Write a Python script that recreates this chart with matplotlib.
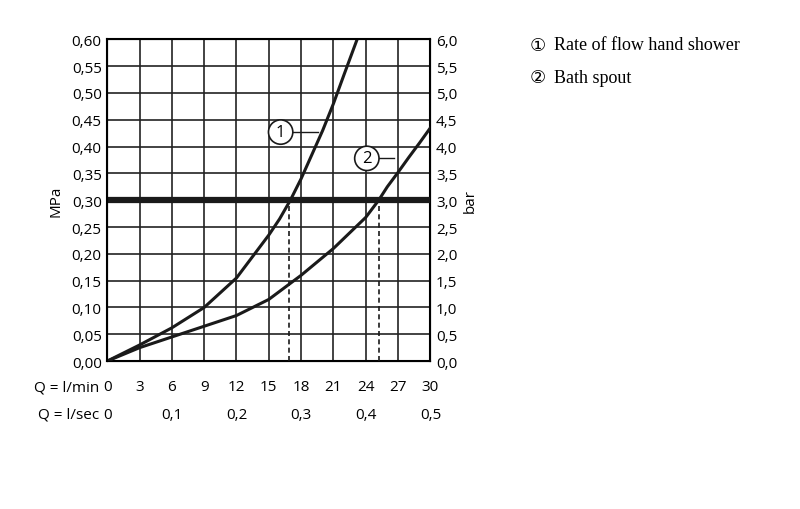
import matplotlib.pyplot as plt
import numpy as np

plt.rcParams['font.family'] = ['Open Sans', 'DejaVu Sans']

# curve data (x in l/min, y in MPa)
hand_x = [0, 3, 6, 9, 12, 15, 16, 17, 18, 19, 20, 21, 22, 23.2]
hand_y = [0, 0.03, 0.062, 0.10, 0.155, 0.235, 0.265, 0.30, 0.34, 0.385, 0.43, 0.48, 0.535, 0.60]
spout_x = [0, 3, 6, 9, 12, 15, 18, 21, 24, 25.2, 26, 27, 28, 29, 30]
spout_y = [0, 0.025, 0.045, 0.065, 0.085, 0.115, 0.16, 0.21, 0.268, 0.30, 0.325, 0.352, 0.38, 0.407, 0.435]
drop_x = [16.9, 25.2]
lmin_ticks = list(range(0, 31, 3))
lsec_labels = ['0', '0,1', '0,2', '0,3', '0,4', '0,5']
legend_marks = ['\u2460', '\u2461']
legend_items = ['Rate of flow hand shower', 'Bath spout']

fig = plt.figure(figsize=(8, 5.1), dpi=100)
ax = fig.add_axes([0.134, 0.290, 0.404, 0.631])
ax.set_xlim(0, 30)
ax.set_ylim(0, 0.6)
ax.set_xticks(lmin_ticks)
ax.set_yticks(np.arange(0, 0.601, 0.05))
ax.set_yticklabels([f'{v:.2f}'.replace('.', ',') for v in np.arange(0, 0.601, 0.05)], fontsize=11)
ax.set_xticklabels([])
ax.tick_params(length=0, pad=4)
ax.grid(True, color='#222', lw=1.2)
for s in ax.spines.values():
    s.set_linewidth(1.5)
ax.set_ylabel('MPa', fontsize=11, labelpad=6)

ax2 = ax.twinx()
ax2.set_ylim(0, 6)
ax2.set_yticks(np.arange(0, 6.01, 0.5))
ax2.set_yticklabels([f'{v:.1f}'.replace('.', ',') for v in np.arange(0, 6.01, 0.5)], fontsize=11)
ax2.tick_params(length=0, pad=4)
ax2.set_ylabel('bar', fontsize=11, labelpad=4)

ax.plot(hand_x, hand_y, color='#1a1a1a', lw=2.2, zorder=3)
ax.plot(spout_x, spout_y, color='#1a1a1a', lw=2.2, zorder=3)
ax.axhline(0.30, color='#1a1a1a', lw=4.5, zorder=4)
for x in drop_x:
    ax.plot([x, x], [0, 0.30], color='#1a1a1a', lw=1.2, ls=(0, (3, 2)), zorder=3)

# curve labels
for (cx, cy, lx, t) in [(16.1, 0.427, 19.6, '1'), (24.1, 0.378, 26.6, '2')]:
    ax.plot([cx, lx], [cy, cy], color='#1a1a1a', lw=1, zorder=4)
    ax.text(cx, cy, t, ha='center', va='center', fontsize=12, zorder=5,
            bbox=dict(boxstyle='circle,pad=0.25', fc='white', ec='#1a1a1a', lw=1.2))

# Q axes rows
tr = ax.get_xaxis_transform()
for v in lmin_ticks:
    ax.text(v, -0.08, str(v), transform=tr, ha='center', va='center', fontsize=11)
for i, lab in enumerate(lsec_labels):
    ax.text(i * 6, -0.165, lab, transform=tr, ha='center', va='center', fontsize=11)
fig.text(0.124, 0.239, 'Q = l/min', ha='right', va='center', fontsize=11)
fig.text(0.124, 0.186, 'Q = l/sec', ha='right', va='center', fontsize=11)

for i, (m, t) in enumerate(zip(legend_marks, legend_items)):
    y = 0.91 - i * 0.063
    fig.text(0.662, y, m, fontsize=13, va='center', family=['DejaVu Sans'])
    fig.text(0.692, y, t, fontsize=13, va='center',
             family=['Liberation Serif', 'DejaVu Serif'])

fig.savefig('out.png', dpi=100)
